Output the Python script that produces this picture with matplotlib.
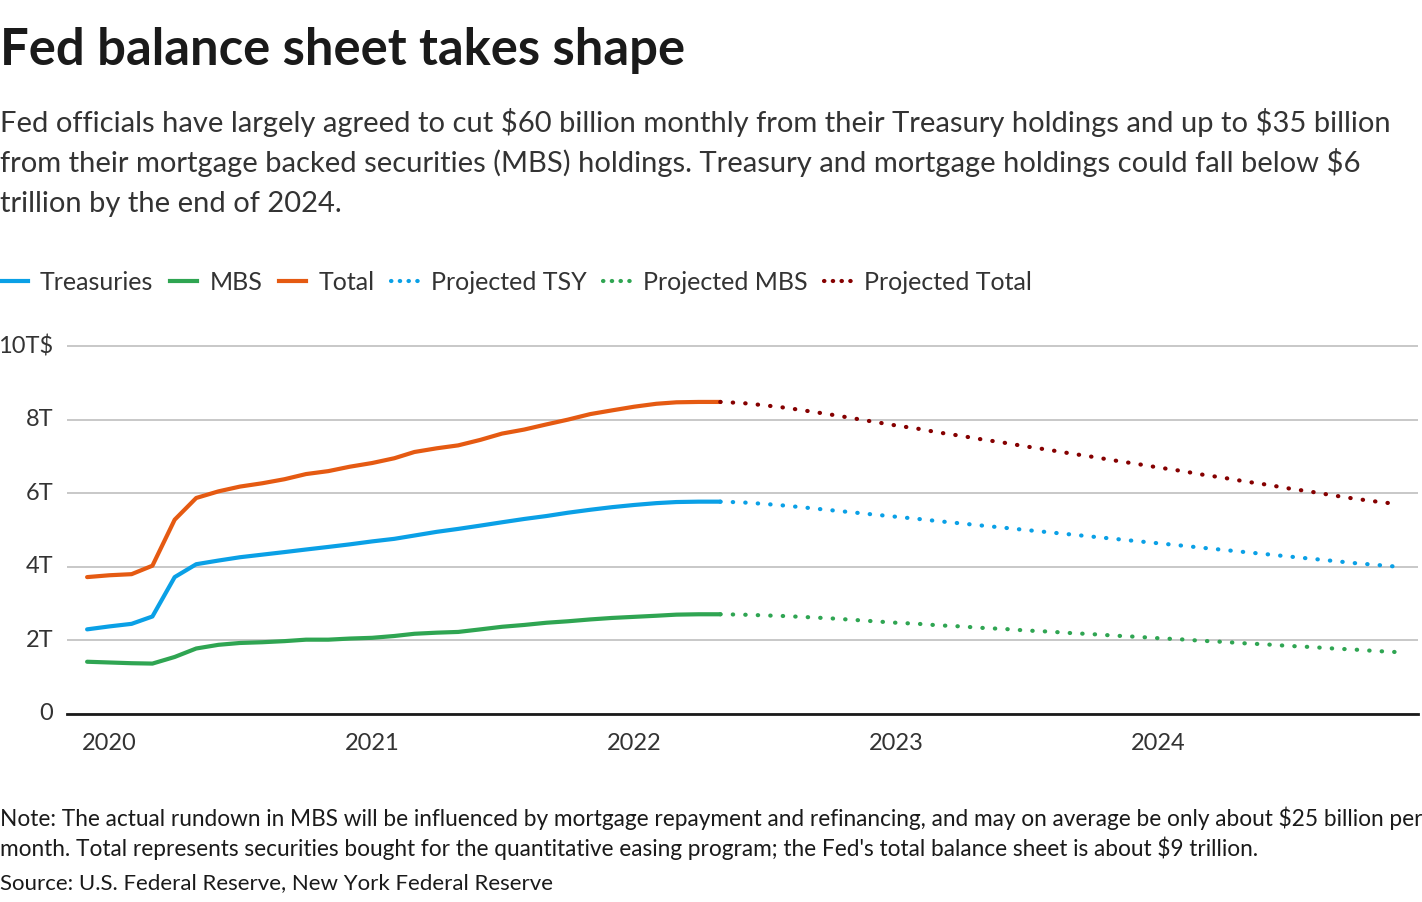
import numpy as np
import pandas as pd
import matplotlib
matplotlib.use("Agg")
import matplotlib.pyplot as plt
import matplotlib.dates as mdates
from matplotlib.lines import Line2D

plt.rcParams['font.family'] = ['Lato', 'DejaVu Sans']

# actual holdings, monthly, Dec 2019 - May 2022 (trillions $)
actual_dates = pd.date_range("2019-12-01", "2022-05-01", freq="MS")
treasuries = [2.30, 2.38, 2.45, 2.65, 3.72, 4.07, 4.17, 4.26, 4.33, 4.40, 4.47, 4.54,
              4.61, 4.69, 4.76, 4.85, 4.95, 5.03, 5.12, 5.21, 5.30, 5.38, 5.47, 5.55,
              5.62, 5.68, 5.73, 5.76, 5.77, 5.77]
mbs = [1.42, 1.40, 1.38, 1.37, 1.55, 1.78, 1.88, 1.93, 1.95, 1.98, 2.02, 2.02,
       2.05, 2.07, 2.12, 2.18, 2.21, 2.23, 2.30, 2.37, 2.42, 2.48, 2.52, 2.57,
       2.61, 2.64, 2.67, 2.70, 2.71, 2.71]
total = [3.72, 3.77, 3.80, 4.03, 5.28, 5.87, 6.05, 6.18, 6.27, 6.38, 6.52, 6.60,
         6.72, 6.82, 6.95, 7.12, 7.22, 7.30, 7.45, 7.62, 7.73, 7.87, 8.00, 8.15,
         8.25, 8.35, 8.43, 8.47, 8.48, 8.48]

# projections, monthly, May 2022 - Dec 2024
proj_dates = pd.date_range("2022-05-01", "2024-12-01", freq="MS")
proj_tsy = [5.77, 5.75, 5.71, 5.66, 5.60, 5.54, 5.48, 5.42,
            5.36, 5.30, 5.24, 5.18, 5.12, 5.06, 5.00, 4.94, 4.88, 4.82, 4.76, 4.70,
            4.64, 4.58, 4.52, 4.46, 4.40, 4.34, 4.28, 4.22, 4.16, 4.10, 4.05, 4.00]
proj_mbs = [2.71, 2.70, 2.68, 2.66, 2.63, 2.60, 2.56, 2.52,
            2.48, 2.45, 2.41, 2.38, 2.34, 2.31, 2.27, 2.24, 2.20, 2.17, 2.13, 2.10,
            2.06, 2.03, 1.99, 1.96, 1.92, 1.89, 1.85, 1.82, 1.78, 1.75, 1.71, 1.68]
proj_total = [8.48, 8.45, 8.39, 8.32, 8.23, 8.14, 8.04, 7.94,
              7.84, 7.75, 7.65, 7.56, 7.46, 7.37, 7.27, 7.18, 7.08, 6.99, 6.89, 6.80,
              6.70, 6.61, 6.51, 6.42, 6.32, 6.23, 6.13, 6.04, 5.94, 5.85, 5.77, 5.70]

subtitle = [
    "Fed officials have largely agreed to cut \\$60 billion monthly from their Treasury holdings and up to \\$35 billion",
    "from their mortgage backed securities (MBS) holdings. Treasury and mortgage holdings could fall below \\$6",
    "trillion by the end of 2024.",
]
notes = [
    "Note: The actual rundown in MBS will be influenced by mortgage repayment and refinancing, and may on average be only about \\$25 billion per",
    "month. Total represents securities bought for the quantitative easing program; the Fed's total balance sheet is about \\$9 trillion.",
    "Source: U.S. Federal Reserve, New York Federal Reserve",
]

c_tsy = "#0aa0e6"
c_mbs = "#2fa552"
c_total = "#e55a12"
c_ptotal = "#850000"
dots = (0, (0.1, 2.9))

fig = plt.figure(figsize=(14.22, 9.02), dpi=100)
ax = fig.add_axes([67 / 1422, 1 - 714 / 902, (1418 - 67) / 1422, (714 - 340) / 902])

ax.plot(actual_dates, treasuries, color=c_tsy, lw=3, solid_capstyle='round')
ax.plot(actual_dates, mbs, color=c_mbs, lw=3, solid_capstyle='round')
ax.plot(actual_dates, total, color=c_total, lw=3, solid_capstyle='round')
ax.plot(proj_dates, proj_tsy, color=c_tsy, lw=3, linestyle=dots, dash_capstyle='round')
ax.plot(proj_dates, proj_mbs, color=c_mbs, lw=3, linestyle=dots, dash_capstyle='round')
ax.plot(proj_dates, proj_total, color=c_ptotal, lw=3, linestyle=dots, dash_capstyle='round')

ax.set_xlim(pd.Timestamp("2019-11-03"), pd.Timestamp("2024-12-28"))
ax.set_ylim(0, 10 * (714 - 340) / (714 - 346))
ax.set_yticks([0, 2, 4, 6, 8, 10])
ax.set_yticklabels(["0", "2T", "4T", "6T", "8T", "10T\\$"])
ax.xaxis.set_major_locator(mdates.YearLocator())
ax.xaxis.set_major_formatter(mdates.DateFormatter("%Y"))
ax.grid(axis='y', color='#c4c4c4', lw=1.3)
ax.set_axisbelow(True)
for s in ['top', 'right', 'left']:
    ax.spines[s].set_visible(False)
ax.spines['bottom'].set_color('#1a1a1a')
ax.spines['bottom'].set_linewidth(2)
ax.tick_params(axis='both', length=0, labelsize=17, colors='#333333')
ax.tick_params(axis='x', pad=14)
ax.tick_params(axis='y', pad=10)
for lbl in ax.get_yticklabels():
    lbl.set_verticalalignment('center')

fig.text(0.0, 1 - 50 / 902, "Fed balance sheet takes shape", fontsize=36.5, fontweight='bold',
         color='#1a1a1a', va='center', ha='left')
for i, line in enumerate(subtitle):
    fig.text(0.0, 1 - (132 + 40 * i) / 902, line, fontsize=21, color='#333333',
             va='baseline', ha='left')

handles = [
    Line2D([], [], color=c_tsy, lw=3),
    Line2D([], [], color=c_mbs, lw=3),
    Line2D([], [], color=c_total, lw=3),
    Line2D([], [], color=c_tsy, lw=3, linestyle=(0, (0.1, 2.0)), dash_capstyle='round'),
    Line2D([], [], color=c_mbs, lw=3, linestyle=(0, (0.1, 2.0)), dash_capstyle='round'),
    Line2D([], [], color=c_ptotal, lw=3, linestyle=(0, (0.1, 2.0)), dash_capstyle='round'),
]
labels = ["Treasuries", "MBS", "Total", "Projected TSY", "Projected MBS", "Projected Total"]
fig.legend(handles, labels, loc='center left', bbox_to_anchor=(0.0, 1 - 282 / 902), ncol=6,
           frameon=False, fontsize=18, handlelength=1.1, handletextpad=0.5, columnspacing=0.65,
           labelcolor='#333333', borderaxespad=0, borderpad=0)

for i, line in enumerate(notes[:2]):
    fig.text(0.0, 1 - (826 + 30 * i) / 902, line, fontsize=16.3, color='#1a1a1a',
             va='baseline', ha='left')
fig.text(0.0, 1 - 889 / 902, notes[2], fontsize=16, color='#1a1a1a', va='baseline', ha='left')

fig.savefig("out.png", dpi=100, facecolor='white')
